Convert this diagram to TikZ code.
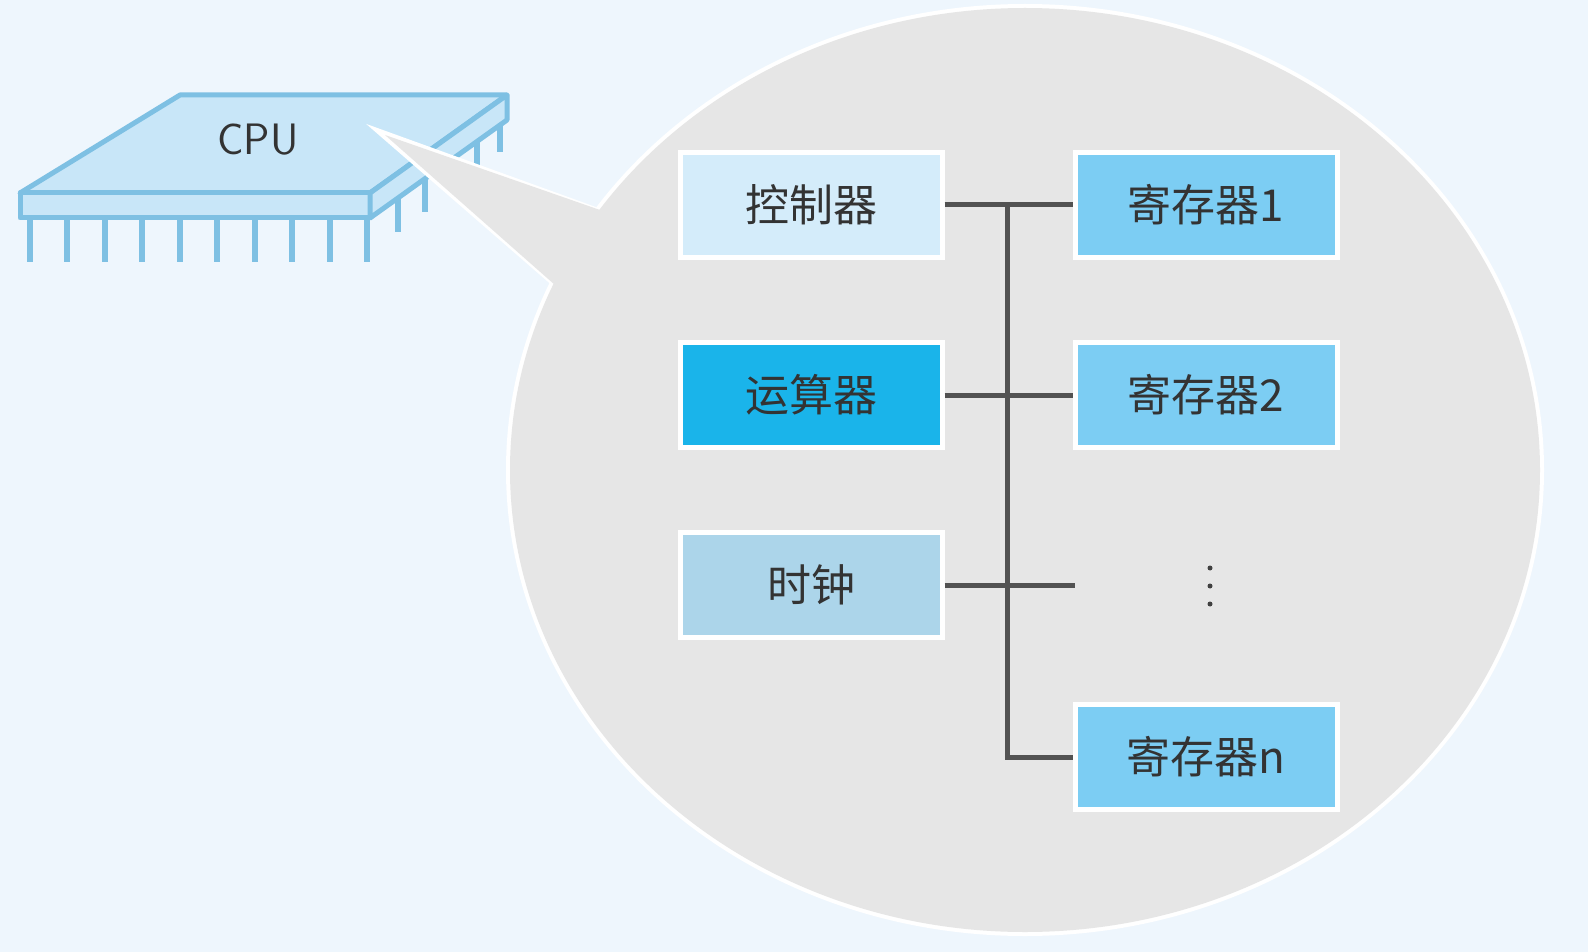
\documentclass[tikz,border=0pt]{standalone}
\usepackage{fontspec}
\newfontfamily\cjk{Noto Sans CJK SC}
\definecolor{bg}{HTML}{EEF6FD}
\definecolor{chipf}{HTML}{C8E6F8}
\definecolor{chipd}{HTML}{7EC0E3}
\definecolor{ell}{HTML}{E6E6E6}
\definecolor{cctl}{HTML}{D4ECFA}
\definecolor{calu}{HTML}{1AB4EA}
\definecolor{cclk}{HTML}{ACD5EA}
\definecolor{creg}{HTML}{7CCDF3}
\begin{document}
\begin{tikzpicture}[x=1pt,y=-1pt,
  box/.style={draw=white,line width=5pt,minimum width=262pt,minimum height=105pt,font=\cjk\fontsize{44}{50}\selectfont,text=black!80},
  bus/.style={draw=black!68,line width=5pt},
  chip/.style={fill=chipf,draw=chipd,line width=5pt,line join=round},
  pin/.style={draw=chipd,line width=6pt}]
\useasboundingbox (0,0) rectangle (1588,952);
\fill[bg] (0,0) rectangle (1588,952);
% chip
\foreach \x in {30,67,105,142,180,217,255,292,330,367} \draw[pin] (\x,218)--(\x,262);
\foreach \x/\y in {398/232,425/212,452/192,477/172,500/152} \draw[pin] (\x,\y-35)--(\x,\y);
\draw[chip] (20,193)--(180,95)--(507,95)--(370,193)--cycle;
\draw[chip] (20,193) rectangle (370,218);
\draw[chip] (370,193)--(507,95)--(507,120)--(370,218)--cycle;
\node[font=\fontsize{44}{50}\selectfont\sffamily,text=black!80] (cpu) at (258,140) {CPU};
% bubble
\coordinate (tip) at (385,135);
\draw[draw=white,line width=8pt,fill=ell] (1025,470) ellipse [x radius=515,y radius=462];
\draw[draw=white,line width=8pt,fill=ell,line join=miter] (620,220)--(tip)--(575,300)--cycle;
\fill[ell] (1025,470) ellipse [x radius=515,y radius=462];
\fill[ell] (600,210)--(tip)--(555,285)--(620,300)--(660,230)--cycle;
% boxes
\node[box,fill=cctl] (ctl) at (811,205) {控制器};
\node[box,fill=calu] (alu) at (811,395) {运算器};
\node[box,fill=cclk] (clk) at (811,585) {时钟};
\node[box,fill=creg] (r1) at (1206,205) {寄存器1};
\node[box,fill=creg] (r2) at (1206,395) {寄存器2};
\node[box,fill=creg] (rn) at (1206,757) {寄存器n};
\foreach \y in {568,586,604} \fill[black!75] (1210,\y) circle (2.5);
\coordinate (bt) at (1007,205);
\coordinate (bb) at (1007,757);
\draw[bus] (bt)--(bb)--(rn.west);
\draw[bus] (ctl.east)--(r1.west);
\draw[bus] (alu.east)--(r2.west);
\draw[bus] (clk.east)--(1075,585);
\end{tikzpicture}
\end{document}
